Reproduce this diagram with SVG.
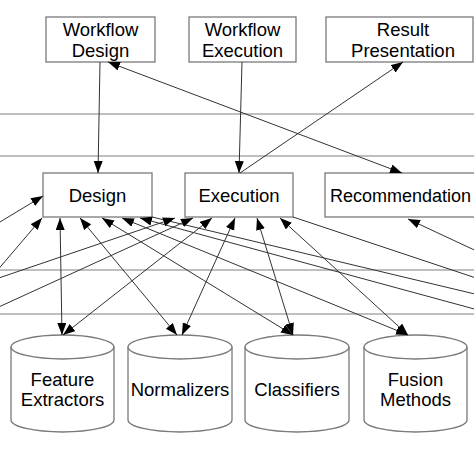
<svg xmlns="http://www.w3.org/2000/svg" width="474" height="474" viewBox="0 0 474 474">
<style>
.box{fill:#fff;stroke:#7a7a7a;stroke-width:1.3}
.band{stroke:#808080;stroke-width:1.2}
.c{stroke:#333;stroke-width:1;fill:none}
text{font-family:"Liberation Sans",Arial,sans-serif;font-size:18.5px;fill:#000;text-anchor:middle}
.cyl{fill:#fff;stroke:#7a7a7a;stroke-width:1.3}
</style>
<defs>
<marker id="ah" markerUnits="userSpaceOnUse" markerWidth="13" markerHeight="10" refX="12" refY="4.5" orient="auto-start-reverse">
<path d="M0,0 L12,4.5 L0,9 z" fill="#000"/>
</marker>
</defs>
<rect width="474" height="474" fill="#fff"/>
<g id="bands">
<line class="band" x1="0" y1="114" x2="474" y2="114"/>
<line class="band" x1="0" y1="156" x2="474" y2="156"/>
<line class="band" x1="0" y1="270" x2="474" y2="270"/>
<line class="band" x1="0" y1="314" x2="474" y2="314"/>
</g>
<g id="workflow-design"><rect class="box" x="46" y="17" width="109" height="45"/><text x="100.5" y="35.5">Workflow</text><text x="100.5" y="56.5">Design</text></g>
<g id="workflow-execution"><rect class="box" x="189" y="17" width="107" height="45"/><text x="242.5" y="35.5">Workflow</text><text x="242.5" y="56.5">Execution</text></g>
<g id="result-presentation"><rect class="box" x="326" y="17" width="147" height="45"/><text x="403" y="35.5">Result</text><text x="403" y="56.5">Presentation</text></g>
<g id="design"><rect class="box" x="43" y="173" width="109" height="44"/><text x="97.5" y="202">Design</text></g>
<g id="execution"><rect class="box" x="185" y="173" width="108" height="44"/><text x="239" y="202">Execution</text></g>
<g id="recommendation"><rect class="box" x="325" y="173" width="170" height="44"/><text x="330" y="202" style="text-anchor:start;font-size:18px">Recommendation</text></g>
<g id="feature-extractors">
<path class="cyl" d="M11,347 L11,420 A51.5,12 0 0 0 114,420 L114,347"/>
<ellipse class="cyl" cx="62.5" cy="347" rx="51.5" ry="12"/>
<text x="62.5" y="386">Feature</text><text x="62.5" y="406">Extractors</text></g>
<g id="normalizers">
<path class="cyl" d="M128,347 L128,420 A52,12 0 0 0 232,420 L232,347"/>
<ellipse class="cyl" cx="180" cy="347" rx="52" ry="12"/>
<text x="180" y="396">Normalizers</text></g>
<g id="classifiers">
<path class="cyl" d="M245,347 L245,420 A52,12 0 0 0 349,420 L349,347"/>
<ellipse class="cyl" cx="297" cy="347" rx="52" ry="12"/>
<text x="297" y="396">Classifiers</text></g>
<g id="fusion-methods">
<path class="cyl" d="M364,347 L364,420 A51.5,12 0 0 0 467,420 L467,347"/>
<ellipse class="cyl" cx="415.5" cy="347" rx="51.5" ry="12"/>
<text x="415.5" y="386">Fusion</text><text x="415.5" y="406">Methods</text></g>
<g id="connectors">
<line class="c" x1="100" y1="62" x2="98" y2="173" marker-end="url(#ah)"/>
<line class="c" x1="108" y1="62" x2="402" y2="173" marker-start="url(#ah)" marker-end="url(#ah)"/>
<line class="c" x1="242" y1="62" x2="239" y2="173" marker-end="url(#ah)"/>
<line class="c" x1="240" y1="173" x2="403" y2="62" marker-end="url(#ah)"/>
<line class="c" x1="-10" y1="228" x2="43" y2="196" marker-end="url(#ah)"/>
<line class="c" x1="-10" y1="279" x2="42" y2="218" marker-end="url(#ah)"/>
<line class="c" x1="60" y1="218" x2="62" y2="335" marker-start="url(#ah)" marker-end="url(#ah)"/>
<line class="c" x1="80" y1="218" x2="177" y2="335" marker-start="url(#ah)" marker-end="url(#ah)"/>
<line class="c" x1="102" y1="218" x2="293" y2="335" marker-start="url(#ah)" marker-end="url(#ah)"/>
<line class="c" x1="122" y1="218" x2="408" y2="335" marker-start="url(#ah)" marker-end="url(#ah)"/>
<line class="c" x1="500" y1="316" x2="140" y2="218" marker-end="url(#ah)"/>
<line class="c" x1="152" y1="217" x2="500" y2="300"/>
<line class="c" x1="-10" y1="281" x2="175" y2="218" marker-end="url(#ah)"/>
<line class="c" x1="-10" y1="311" x2="193" y2="218" marker-end="url(#ah)"/>
<line class="c" x1="212" y1="218" x2="63" y2="335" marker-start="url(#ah)" marker-end="url(#ah)"/>
<line class="c" x1="235" y1="218" x2="182" y2="335" marker-start="url(#ah)" marker-end="url(#ah)"/>
<line class="c" x1="257" y1="218" x2="293" y2="335" marker-start="url(#ah)" marker-end="url(#ah)"/>
<line class="c" x1="280" y1="218" x2="408" y2="335" marker-start="url(#ah)" marker-end="url(#ah)"/>
<line class="c" x1="293" y1="217" x2="500" y2="286"/>
<line class="c" x1="500" y1="262" x2="408" y2="219" marker-end="url(#ah)"/>
</g>
</svg>
